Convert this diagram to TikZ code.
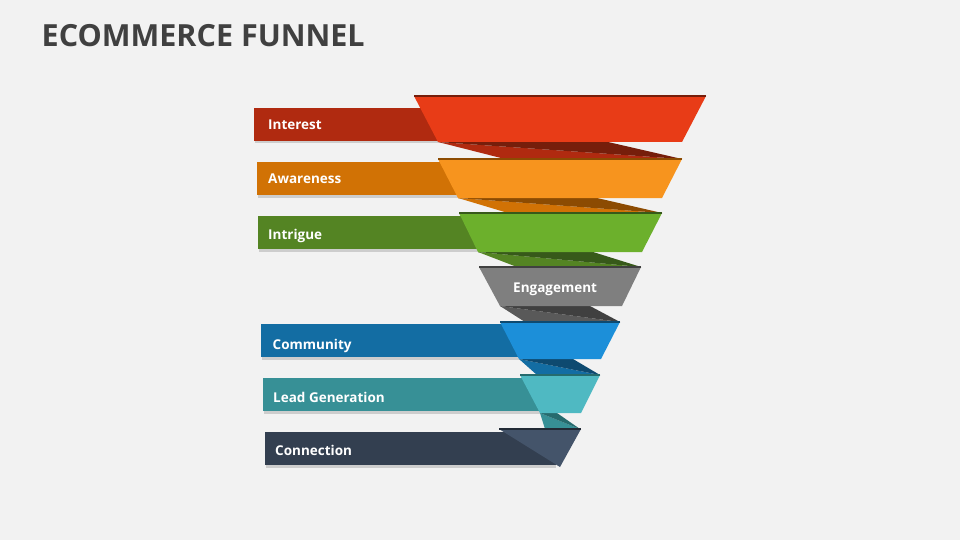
\documentclass[tikz,border=0pt]{standalone}
\usepackage{fontspec}
\setmainfont{Open Sans}
\usepackage{tikz}

\definecolor{bgGray}{HTML}{F2F2F2}
\definecolor{titleGray}{HTML}{404040}
\definecolor{intBar}{HTML}{B02A10}
\definecolor{intTop}{HTML}{E83C17}
\definecolor{intDark}{HTML}{761E0B}
\definecolor{awaBar}{HTML}{D17205}
\definecolor{awaTop}{HTML}{F7941E}
\definecolor{awaDark}{HTML}{8C4B02}
\definecolor{intrBar}{HTML}{548423}
\definecolor{intrTop}{HTML}{6CB02C}
\definecolor{intrDark}{HTML}{37591A}
\definecolor{engBar}{HTML}{595959}
\definecolor{engTop}{HTML}{7F7F7F}
\definecolor{engDark}{HTML}{404040}
\definecolor{comBar}{HTML}{136DA3}
\definecolor{comTop}{HTML}{1C8FD9}
\definecolor{comDark}{HTML}{0E4A70}
\definecolor{leadBar}{HTML}{379096}
\definecolor{leadTop}{HTML}{4FB9C2}
\definecolor{leadDark}{HTML}{266B6E}
\definecolor{conBar}{HTML}{333F50}
\definecolor{conTop}{HTML}{44546A}
\definecolor{conDark}{HTML}{222A35}

\tikzset{
  barShadow/.style={fill=black, opacity=0.15},
  barText/.style={anchor=base west, text=white, inner sep=0pt, font=\fontsize{13.5}{15}\selectfont\bfseries},
}

\begin{document}
\begin{tikzpicture}[x=1pt, y=-1pt]
\fill[bgGray] (0,0) rectangle (960,540);
\node[anchor=base west, inner sep=0pt, text=titleGray, font=\fontsize{30.5}{34}\selectfont\bfseries] (title) at (41.5,46.5) {ECOMMERCE FUNNEL};

% label bars
\foreach \n/\xl/\yt/\xr/\col/\lab/\xt/\yl in {int/254/108/438/intBar/Interest/268/130, awa/257/162/458/awaBar/Awareness/268/183, intr/258/216/478/intrBar/Intrigue/268/239, com/261/324/519/comBar/Community/272.5/349, lead/263/378/540/leadBar/Lead Generation/273/402, con/265/432/556/conBar/Connection/275/455} {
	\fill[barShadow] (\xl + 1, \yt + 2.5) rectangle (\xr, \yt + 35.5);
	\fill[\col] (\xl, \yt) rectangle (\xr, \yt + 33);
	\node[barText] (lab-\n) at (\xt, \yl) {\lab};
}

% folds between the steps
\foreach \dk/\lt/\bl/\fx/\nr/\yb/\yn/\fl in {intDark/intBar/438/608/682/142/159/505, awaDark/awaBar/458/597/662/198/213/508, intrDark/intrBar/478/593/641/252/267/517, engDark/engBar/500/590/620/306/322/525, comDark/comBar/519/573/600/359/375/537, leadDark/leadBar/540/557/580/413/429/545} {
	\fill[\lt] (\bl, \yb) -- (\nr, \yn) -- (\fl, \yn) -- cycle;
	\fill[\dk] (\bl, \yb) -- (\fx, \yb) -- (\nr, \yn) -- cycle;
}

% funnel steps
\foreach \col/\dk/\a/\b/\c/\d/\yt/\yb in {intTop/intDark/414/706/682/438/96/142, awaTop/awaDark/438/682/662/458/159/198, intrTop/intrDark/459/662/642/478/213/252, engTop/engDark/479/641/622/500/267/306, comTop/comDark/500/620/601/519/322/359, leadTop/leadDark/520/600/581/540/375/413} {
	\fill[\col] (\a, \yt) -- (\b, \yt) -- (\c, \yb) -- (\d, \yb) -- cycle;
	\draw[\dk, line width=1.5pt] (\a, \yt) -- (\b, \yt);
}
\fill[conTop] (499,429) -- (581,429) -- (560,467) -- cycle;
\draw[conDark, line width=1.5pt] (499,429) -- (581,429);

\node[barText] (lab-eng) at (513,292.5) {Engagement};

\end{tikzpicture}
\end{document}
